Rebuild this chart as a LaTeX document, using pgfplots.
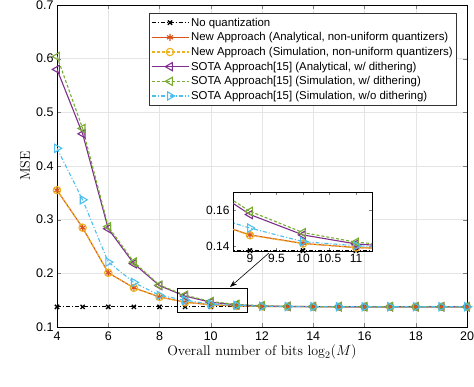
\documentclass[border=0pt]{standalone}
\usepackage{pgfplots}
\pgfplotsset{compat=1.18}
\usepackage{fontspec}
\setsansfont{Liberation Sans}
\usetikzlibrary{arrows.meta}
\definecolor{morange}{rgb}{0.85,0.325,0.098}
\definecolor{myellow}{rgb}{0.929,0.694,0.125}
\definecolor{mpurple}{rgb}{0.494,0.184,0.556}
\definecolor{mgreen}{rgb}{0.466,0.674,0.188}
\definecolor{mcyan}{rgb}{0.301,0.745,0.933}

\pgfplotstableread{
x noq newa news sotaa sotas sotaw
4  0.1375 0.355 0.355 0.580 0.604 0.433
5  0.1375 0.285 0.285 0.460 0.470 0.337
6  0.1375 0.201 0.201 0.283 0.287 0.221
7  0.1375 0.173 0.173 0.218 0.221 0.183
8  0.1375 0.156 0.156 0.177 0.178 0.159
9  0.1375 0.1462 0.1460 0.1575 0.1593 0.1500
10 0.1375 0.1415 0.1414 0.1462 0.1475 0.1425
11 0.1375 0.1392 0.1392 0.1412 0.1422 0.1402
12 0.1375 0.1383 0.1383 0.1392 0.1396 0.1386
13 0.1375 0.1379 0.1379 0.1383 0.1385 0.1380
14 0.1375 0.1378 0.1378 0.1380 0.1381 0.1378
15 0.1375 0.1377 0.1377 0.1378 0.1379 0.1377
16 0.1375 0.1377 0.1377 0.1378 0.1378 0.1377
17 0.1375 0.1377 0.1377 0.1377 0.1378 0.1377
18 0.1375 0.1377 0.1377 0.1377 0.1377 0.1377
19 0.1375 0.1377 0.1377 0.1377 0.1377 0.1377
20 0.1375 0.1377 0.1377 0.1377 0.1377 0.1377
}\data

\pgfplotsset{
  noqstyle/.style={black, line width=1.1pt, dash pattern=on 4pt off 2pt on 1pt off 2pt, mark=x, mark size=3pt, mark options={solid, line width=1.4pt}},
  newastyle/.style={morange, line width=1.1pt, mark=asterisk, mark size=3.5pt, mark options={solid}},
  newsstyle/.style={myellow, line width=1.1pt, dash pattern=on 3pt off 2pt, mark=o, mark size=3.7pt, mark options={solid}},
  sotaastyle/.style={mpurple, line width=1.1pt, mark=triangle, mark size=4.7pt, mark options={solid, rotate=90}},
  sotasstyle/.style={mgreen, line width=1.1pt, dash pattern=on 3pt off 2pt, mark=triangle, mark size=4.7pt, mark options={solid, rotate=90}},
  sotawstyle/.style={mcyan, line width=1.1pt, dash pattern=on 4pt off 2pt on 1pt off 2pt, mark=triangle, mark size=4.7pt, mark options={solid, rotate=-90}},
}

\begin{document}
\begin{tikzpicture}
\begin{axis}[
  scale only axis, width=410pt, height=322pt,
  xmin=4, xmax=20, ymin=0.1, ymax=0.7,
  xtick={4,6,...,20}, ytick={0.1,0.2,...,0.7},
  yticklabels={0.1,0.2,0.3,0.4,0.5,0.6,0.7},
  tick align=inside, major tick length=4pt,
  grid=major, grid style={gray!20, line width=0.5pt},
  axis line style={line width=0.6pt},
  /pgf/number format/assume math mode=true,
  tick label style={font=\sffamily\fontsize{12.5}{14}\selectfont},
  xticklabel style={yshift=-1pt},
  xlabel={Overall number of bits $\log_2(M)$},
  ylabel={MSE},
  label style={font=\fontsize{14}{16}\selectfont},
  xlabel style={yshift=3pt},
  ylabel style={yshift=-1pt},
  legend style={at={(rel axis cs:0.9756,0.975)}, anchor=north east, font=\sffamily\fontsize{11.4}{12.5}\selectfont, draw=black!80, line width=0.5pt, inner xsep=2pt, inner ysep=2.5pt, row sep=0.9pt, cells={anchor=west}},
  legend cell align=left,
  legend image code/.code={\draw[mark repeat=2,mark phase=2,#1] plot coordinates {(0cm,0cm) (0.65cm,0cm) (1.3cm,0cm)};},
]
\addplot[noqstyle] table[x=x,y=noq]{\data};
\addlegendentry{No quantization}
\addplot[newastyle] table[x=x,y=newa]{\data};
\addlegendentry{New Approach (Analytical, non-uniform quantizers)}
\addplot[newsstyle] table[x=x,y=news]{\data};
\addlegendentry{New Approach (Simulation, non-uniform quantizers)}
\addplot[sotaastyle] table[x=x,y=sotaa]{\data};
\addlegendentry{SOTA Approach[15] (Analytical, w/ dithering)}
\addplot[sotasstyle] table[x=x,y=sotas]{\data};
\addlegendentry{SOTA Approach[15] (Simulation, w/ dithering)}
\addplot[sotawstyle] table[x=x,y=sotaw]{\data};
\addlegendentry{SOTA Approach[15] (Simulation, w/o dithering)}
\draw[black, line width=0.6pt] (axis cs:8.68,0.128) rectangle (axis cs:11.41,0.173);
\end{axis}
\draw[-{Stealth[length=7pt,width=5pt]}, line width=0.6pt] (212pt,74pt) -- (173pt,40pt);
\begin{axis}[
  at={(176pt,76pt)}, anchor=south west,
  scale only axis, width=139pt, height=59pt,
  xmin=8.68, xmax=11.3, ymin=0.1373, ymax=0.17,
  xtick={9,9.5,10,10.5,11}, ytick={0.14,0.16},
  xticklabels={9,9.5,10,10.5,11}, yticklabels={0.14,0.16},
  tick align=inside, major tick length=3pt,
  axis background/.style={fill=white},
  axis line style={line width=0.6pt},
  /pgf/number format/assume math mode=true,
  tick label style={font=\sffamily\fontsize{12}{14}\selectfont},
]
\addplot[noqstyle] table[x=x,y=noq]{\data};
\addplot[newastyle] table[x=x,y=newa]{\data};
\addplot[newsstyle] table[x=x,y=news]{\data};
\addplot[sotaastyle] table[x=x,y=sotaa]{\data};
\addplot[sotasstyle] table[x=x,y=sotas]{\data};
\addplot[sotawstyle] table[x=x,y=sotaw]{\data};
\end{axis}
\pgfresetboundingbox
\useasboundingbox (-57pt,-60pt) rectangle (417pt,327pt);
\end{tikzpicture}
\end{document}
